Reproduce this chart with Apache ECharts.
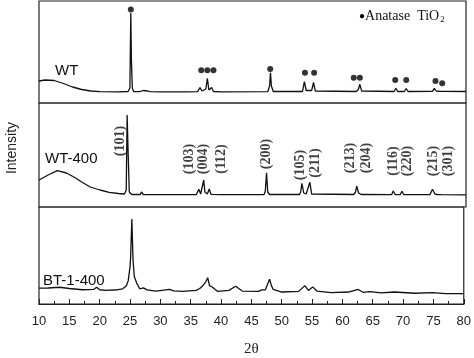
<!DOCTYPE html>
<html>
<head>
<meta charset="utf-8">
<script src="https://cdn.jsdelivr.net/npm/echarts@6/dist/echarts.min.js"></script>
<style>
    html, body {margin: 0; padding: 0; background: #fff;}
    #chart {width: 474px; height: 358px;}
</style>
</head>
<body>
<div id="chart"></div>
<script>
// 2theta / intensity (arbitrary units, per panel)
const wtData = [
    [10, 22], [11, 23], [12.5, 22.5], [14, 19.5], [15.5, 16], [17, 13.5], [18.5, 12], [20, 11.3],
    [23, 11.2], [24.6, 11.5], [24.9, 15], [25.05, 90], [25.15, 43], [25.3, 15], [25.5, 11.5],
    [26.5, 11.3], [27.1, 12.5], [27.4, 11.3], [27.8, 12], [28.2, 11.3], [30, 11.2], [34, 11.2],
    [36.0, 11.3], [36.4, 15.5], [36.7, 12], [37.0, 11.8], [37.35, 14], [37.6, 24.7], [37.85, 13],
    [38.1, 12], [38.3, 15.5], [38.6, 11.5], [40, 11.2], [47.5, 11.3], [47.8, 17], [47.95, 30.3],
    [48.1, 17], [48.4, 11.5], [53.2, 11.5], [53.5, 21.3], [53.8, 12.5], [54.7, 12.5], [55.0, 20.5],
    [55.3, 12], [62.0, 11.5], [62.35, 13.5], [62.6, 18.7], [62.9, 12], [68.2, 11.5], [68.5, 14.7],
    [68.8, 11.5], [69.9, 11.5], [70.2, 14.5], [70.5, 11.5], [74.5, 11.6], [74.8, 14.7], [75.1, 12],
    [75.8, 11.7], [76.0, 13], [76.3, 11.6], [80, 11.5]
];

const wt400Data = [
    [10, 27], [11.5, 32], [13, 36.3], [14.5, 34], [16, 29], [16.3, 28], [17, 25], [18.4, 20],
    [20, 17], [21.5, 14.7], [23, 13.5], [24.0, 13], [24.3, 17], [24.45, 92], [24.6, 57], [24.8, 15],
    [25.2, 12.5], [26.6, 12.5], [26.8, 15], [27.1, 12.5], [30, 12.3], [35.8, 12.5], [36.2, 17.7],
    [36.5, 13], [36.8, 14], [37.0, 27], [37.2, 15], [37.6, 13], [37.9, 18], [38.2, 12.7], [40, 12.3],
    [46.9, 12.5], [47.1, 16], [47.3, 34.3], [47.5, 15], [47.8, 12.5], [52.7, 12.5], [52.9, 15],
    [53.1, 23.7], [53.4, 14], [53.8, 13], [54.1, 14], [54.4, 24.7], [54.7, 13], [61.6, 12.5],
    [61.9, 15], [62.07, 21], [62.4, 14], [62.8, 12.5], [67.8, 12.3], [68.07, 16], [68.4, 12.3],
    [69.2, 12.3], [69.5, 15.7], [69.8, 12.3], [74.1, 12.4], [74.5, 17.7], [74.9, 13], [75.3, 12.5],
    [75.6, 13.7], [76, 12.3], [80, 12.2]
];

const bt1400Data = [
    [10, 16.6], [11.5, 16.8], [13.4, 17.6], [15, 16.3], [17.2, 15], [19.0, 15.3], [19.5, 17.6],
    [20.0, 15], [21.1, 14.3], [23.0, 15], [23.8, 16], [24.4, 19.3], [24.7, 24.3], [25.0, 39],
    [25.1, 49.3], [25.3, 89.3], [25.5, 46], [25.7, 29], [26.1, 22], [26.6, 16], [27.2, 17],
    [27.8, 14.8], [29.3, 13.6], [31.5, 15.3], [32.2, 13.8], [33.7, 13.3], [35.9, 14.3], [36.5, 16.3],
    [36.9, 18.6], [37.5, 23.3], [37.8, 27.6], [38.1, 19.3], [38.6, 17.6], [39.4, 13.3], [41.3, 14.3],
    [42.4, 18.6], [43.5, 13.6], [46.2, 13.3], [46.7, 14.8], [47.3, 15], [47.7, 21.3], [48.0, 26],
    [48.3, 19.3], [48.6, 15.3], [50.0, 12.6], [52.8, 13.3], [53.8, 19.3], [54.4, 14.3], [55.1, 18],
    [55.8, 13.6], [58.2, 12], [61.0, 12.6], [62.6, 15.3], [63.4, 12.3], [64.5, 13], [66.4, 11.6],
    [68.6, 12.6], [71.9, 11.3], [74.9, 12], [77, 11], [80, 11]
];

// anatase markers over the WT pattern
const anataseX = [25.05, 36.6, 37.6, 38.6, 47.9, 53.6, 55.1, 61.6, 62.6, 68.4, 70.2, 75.0, 76.1];
const anataseY = [93.5, 32.7, 32.7, 32.7, 34, 30.3, 30.3, 25.3, 25.3, 23, 23, 22, 19.7];

// Miller indices over the WT-400 pattern
const millerLabels = ['(101)', '(103)', '(004)', '(112)', '(200)', '(105)', '(211)',
    '(213)', '(204)', '(116)', '(220)', '(215)', '(301)'];
const millerX = [23.35, 34.6, 36.9, 39.92, 47.3, 52.93, 55.23, 60.97, 63.71, 68.07, 70.37, 74.63, 77.09];
const millerY = [66, 48, 48, 48, 53, 42, 44, 49, 49, 46, 46, 46, 46];

const sampleNames = ['WT', 'WT-400', 'BT-1-400'];

const sans = '"Liberation Sans", Arial, sans-serif';
const serif = '"Liberation Serif", "Times New Roman", serif';

const gridBase = {left: 39, right: 8, show: true, borderColor: '#222', borderWidth: 1.2, backgroundColor: 'transparent'};
const grids = [
    Object.assign({top: 1, height: 102}, gridBase),
    Object.assign({top: 103, height: 104}, gridBase),
    Object.assign({top: 207, height: 102}, gridBase)
];

const xAxes = [0, 1, 2].map(i => ({
    gridIndex: i,
    type: 'value',
    min: 10,
    max: 80,
    interval: 5,
    show: i === 2,
    axisLine: {show: true, lineStyle: {color: '#222', width: 1.2}},
    axisTick: {show: true, inside: true, length: 5, lineStyle: {color: '#222'}},
    minorTick: {show: true, splitNumber: 2, length: 3, lineStyle: {color: '#222'}},
    splitLine: {show: false},
    axisLabel: {color: '#222', fontFamily: sans, fontSize: 13, margin: 11},
    name: i === 2 ? '2θ' : '',
    nameLocation: 'middle',
    nameGap: 38,
    nameTextStyle: {color: '#222', fontFamily: serif, fontSize: 15}
}));

const yAxes = grids.map((g, i) => ({
    gridIndex: i,
    type: 'value',
    min: 0,
    max: g.height,
    show: false
}));

const lineSeries = (data, i) => ({
    type: 'line',
    xAxisIndex: i,
    yAxisIndex: i,
    data: data,
    showSymbol: false,
    smooth: false,
    silent: true,
    lineStyle: {color: '#111', width: 1.3}
});

const option = {
    animation: false,
    backgroundColor: '#fff',
    grid: grids,
    xAxis: xAxes,
    yAxis: yAxes,
    series: [
        lineSeries(wtData, 0),
        lineSeries(wt400Data, 1),
        lineSeries(bt1400Data, 2),
        {
            type: 'scatter',
            xAxisIndex: 0,
            yAxisIndex: 0,
            symbol: 'circle',
            symbolSize: 6,
            itemStyle: {color: '#000'},
            data: anataseX.map((x, i) => [x, anataseY[i]])
        },
        {
            type: 'scatter',
            xAxisIndex: 1,
            yAxisIndex: 1,
            symbolSize: 0,
            data: millerLabels.map((n, i) => ({name: n, value: [millerX[i], millerY[i]]})),
            label: {
                show: true,
                position: 'inside',
                rotate: 90,
                formatter: '{b}',
                color: '#111',
                fontFamily: serif,
                fontWeight: 'bold',
                fontSize: 14
            }
        }
    ],
    graphic: [
        {type: 'text', left: 55, top: 63, style: {text: sampleNames[0], font: '15px ' + sans, fill: '#111'}},
        {type: 'text', left: 45, top: 151, style: {text: sampleNames[1], font: '15px ' + sans, fill: '#111'}},
        {type: 'text', left: 43, top: 273, style: {text: sampleNames[2], font: '15px ' + sans, fill: '#111'}},
        {
            type: 'text', x: 12, y: 148, rotation: Math.PI / 2,
            style: {text: 'Intensity', font: '14px ' + sans, fill: '#222', align: 'center', verticalAlign: 'middle'}
        },
        {
            type: 'text', left: 359, top: 9,
            style: {
                text: '{d|●}{t|Anatase  TiO}{s|2}',
                rich: {
                    d: {fontSize: 10, fontFamily: sans, fill: '#000', verticalAlign: 'middle'},
                    t: {fontSize: 14, fontFamily: serif, fill: '#111'},
                    s: {fontSize: 9, fontFamily: serif, fill: '#111', padding: [8, 0, 0, 1]}
                }
            }
        }
    ]
};

const myChart = echarts.init(document.getElementById('chart'));
myChart.setOption(option);
</script>
</body>
</html>
